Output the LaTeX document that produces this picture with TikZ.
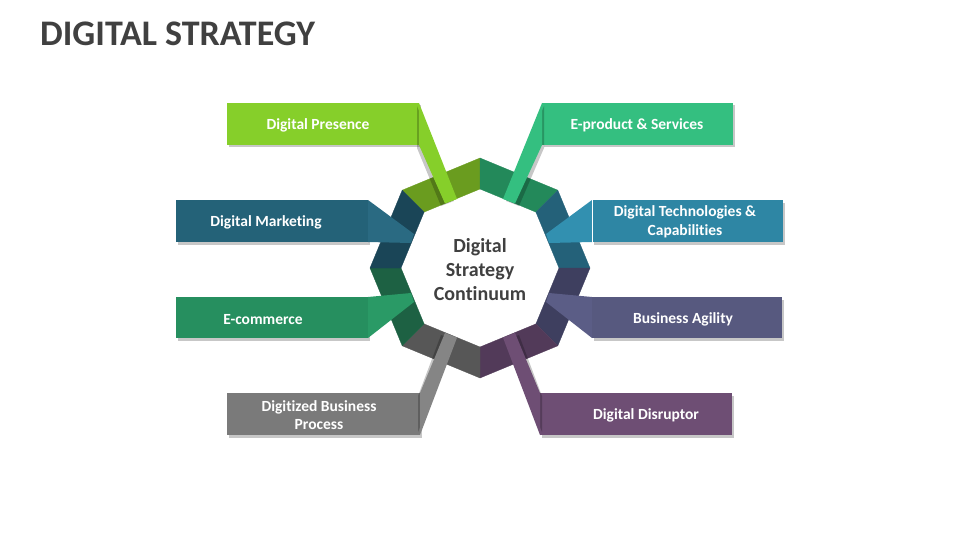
\documentclass[tikz,border=0pt]{standalone}
\usepackage{fontspec}
\setmainfont{Carlito}[Ligatures=NoCommon]
\usetikzlibrary{shadows}
\definecolor{titlec}{HTML}{404040}
\definecolor{segA}{HTML}{6A9C1F}
\definecolor{segB}{HTML}{23895A}
\definecolor{segC}{HTML}{246179}
\definecolor{segD}{HTML}{3E3F5F}
\definecolor{segE}{HTML}{523A59}
\definecolor{segF}{HTML}{575757}
\definecolor{segG}{HTML}{1D6143}
\definecolor{segH}{HTML}{1A4557}
\definecolor{dpc}{HTML}{86CF2A}
\definecolor{epc}{HTML}{34BF80}
\definecolor{dtcc}{HTML}{2E86A4}
\definecolor{dtcp}{HTML}{3290B0}
\definecolor{bac}{HTML}{57597F}
\definecolor{bap}{HTML}{5B5D86}
\definecolor{ddc}{HTML}{6E4E74}
\definecolor{dbpc}{HTML}{7A7A7A}
\definecolor{dbpp}{HTML}{858585}
\definecolor{ecc}{HTML}{268F5F}
\definecolor{ecp}{HTML}{2A9A66}
\definecolor{dmc}{HTML}{246278}
\definecolor{dmp}{HTML}{2A6A82}
\begin{document}
\begin{tikzpicture}[x=1pt,y=-1pt,
  boxshadow/.style={drop shadow={shadow xshift=2pt,shadow yshift=-2.5pt,opacity=0.22,fill=black}},
  stripshadow/.style={fill=black,opacity=0.22},
  lbl/.style={text=white,font=\bfseries\fontsize{15.5}{18.5}\selectfont,align=center,inner sep=0pt},
  seg/.style={fill=#1,draw=#1,line width=0.3pt}
]
\useasboundingbox[fill=white] (0,0) rectangle (960,540);

% title
\node[anchor=base west,inner sep=0pt,text=titlec,font=\bfseries\fontsize{36}{40}\selectfont] (title) at (40,46) {DIGITAL STRATEGY};

% boxes
\path[fill=dpc,boxshadow]  (227,103) rectangle (419,145);
\path[fill=epc,boxshadow]  (542,103) rectangle (733,145);
\path[fill=dmc,boxshadow]  (176,200) rectangle (368,242);
\path[fill=dtcc,boxshadow] (592,200) rectangle (783,242);
\path[fill=ecc,boxshadow]  (176,297) rectangle (368,338);
\path[fill=bac,boxshadow]  (592,297) rectangle (782,338);
\path[fill=dbpc,boxshadow] (227,393) rectangle (420,435);
\path[fill=ddc,boxshadow]  (540,393) rectangle (732,435);

% ring vertices
\coordinate (O1) at (480,158);   \coordinate (I1) at (480,189);
\coordinate (O2) at (557.8,190.2); \coordinate (I2) at (535.9,212.1);
\coordinate (O3) at (590,268);   \coordinate (I3) at (559,268);
\coordinate (O4) at (557.8,345.8); \coordinate (I4) at (535.9,323.9);
\coordinate (O5) at (480,378);   \coordinate (I5) at (480,347);
\coordinate (O6) at (402.2,345.8); \coordinate (I6) at (424.1,323.9);
\coordinate (O7) at (370,268);   \coordinate (I7) at (401,268);
\coordinate (O8) at (402.2,190.2); \coordinate (I8) at (424.1,212.1);

\path[seg=segA] (O8)--(O1)--(I1)--(I8)--cycle;
\path[seg=segB] (O1)--(O2)--(I2)--(I1)--cycle;
\path[seg=segC] (O2)--(O3)--(I3)--(I2)--cycle;
\path[seg=segD] (O3)--(O4)--(I4)--(I3)--cycle;
\path[seg=segE] (O4)--(O5)--(I5)--(I4)--cycle;
\path[seg=segF] (O5)--(O6)--(I6)--(I5)--cycle;
\path[seg=segG] (O6)--(O7)--(I7)--(I6)--cycle;
\path[seg=segH] (O7)--(O8)--(I8)--(I7)--cycle;

% strip shadows
\path[stripshadow] (417,106)--(454,201)--(441,206)--(417,148)--cycle;
\path[stripshadow] (544,106)--(506,201)--(519,206)--(544,148)--cycle;
\path[stripshadow] (418,432)--(455,340)--(441,335)--(418,396)--cycle;
\path[stripshadow] (542,432)--(505,340)--(519,335)--(542,396)--cycle;

% pointers
\path[fill=dpc]  (419,103)--(457,199)--(445,203.5)--(419,145)--cycle;
\path[fill=epc]  (542,103)--(503,199)--(515,203.5)--(542,145)--cycle;
\path[fill=dmp]  (368,200)--(414,234)--(411,243)--(368,242)--cycle;
\path[fill=dtcp] (592,200)--(546,234)--(549,243)--(592,242)--cycle;
\path[fill=ecp]  (368,297)--(411,293)--(414,302)--(368,338)--cycle;
\path[fill=bap]  (592,297)--(549,293)--(546,302)--(592,338)--cycle;
\path[fill=dbpp] (420,435)--(457,337.7)--(445,332.9)--(420,393)--cycle;
\path[fill=ddc]  (540,435)--(503,337.7)--(515,332.9)--(540,393)--cycle;
\draw[white,line width=0.8pt] (592.5,200)--(592.5,242);

% labels
\node[lbl] (tdp)  at (318,125.5) {Digital Presence};
\node[lbl] (tep)  at (637,125.5) {E-product \& Services};
\node[lbl] (tdm)  at (266,222.5) {Digital Marketing};
\node[lbl] (tdtc) at (685,222) {Digital Technologies \&\\Capabilities};
\node[lbl] (tec)  at (263,319.5) {E-commerce};
\node[lbl] (tba)  at (683,319.5) {Business Agility};
\node[lbl] (tdbp) at (319,415) {Digitized Business\\Process};
\node[lbl] (tdd)  at (646,415.5) {Digital Disruptor};

\node[align=center,inner sep=0pt,text=titlec,font=\bfseries\fontsize{20}{24}\selectfont] (center) at (480,270) {Digital\\Strategy\\Continuum};
\end{tikzpicture}
\end{document}
